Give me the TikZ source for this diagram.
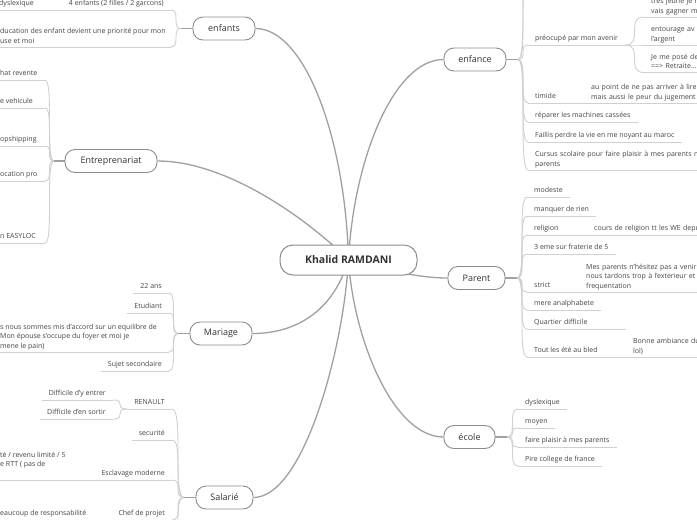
\documentclass[tikz,border=0pt]{standalone}
\usepackage{fontspec}
\setmainfont{Open Sans}
\usetikzlibrary{backgrounds,calc}
\definecolor{txt}{HTML}{454545}
\definecolor{btxt}{HTML}{333333}
\definecolor{bord}{HTML}{8C8C8C}
\definecolor{mainline}{HTML}{A0A0A0}
\definecolor{leafline}{HTML}{D0D0D0}
\begin{document}
\begin{tikzpicture}[x=1pt,y=-1pt,
 mainnode/.style={draw=bord, line width=1pt, rounded corners=13pt, fill=white, minimum width=137pt, minimum height=30pt, font=\fontsize{10.5}{12}\selectfont\bfseries, text=btxt, inner sep=2pt},
 branch/.style={draw=bord, line width=0.9pt, rounded corners=10pt, fill=white, minimum height=23pt, font=\fontsize{9}{11}\selectfont, text=btxt, inner xsep=4pt, inner ysep=2pt},
 leafbase/.style={font=\fontsize{7}{9.5}\selectfont, text=txt, inner xsep=7pt, inner ysep=2pt, align=left},
 uline/.style={draw=leafline, line width=0.9pt},
 rleaf/.style={leafbase, text depth=1.9pt, anchor=south west, append after command={(\tikzlastnode.south west) edge[uline] (\tikzlastnode.south east)}},
 rmleaf/.style={leafbase, anchor=south west, append after command={(\tikzlastnode.south west) edge[uline] (\tikzlastnode.south east)}},
 lleaf/.style={leafbase, text depth=1.9pt, anchor=south east},
 lcut/.style={leafbase, text depth=1.9pt, anchor=south west},
 lmcut/.style={leafbase, anchor=south west},
 brk/.style={uline, to path={.. controls (\tikztostart -| \tikztotarget) and (\tikztotarget -| \tikztostart) .. (\tikztotarget)}},
 mline/.style={draw=mainline, line width=1.3pt},
 stub/.style={draw=mainline, line width=1.1pt},
]
\useasboundingbox (0,0) rectangle (697,520);
\clip (0,0) rectangle (697,520);

% central and branch nodes
\node[mainnode] (main) at (348.5,260) {Khalid RAMDANI};
\node[branch, minimum width=62pt] (enfants) at (224,28.5) {enfants};
\node[branch, minimum width=92pt] (entre) at (111,161) {Entreprenariat};
\node[branch, minimum width=62pt] (mariage) at (221,333.5) {Mariage};
\node[branch, minimum width=57pt] (salarie) at (224.5,497.5) {Salarié};
\node[branch, minimum width=62pt] (enfance) at (475,59.5) {enfance};
\node[branch, minimum width=57pt] (parent) at (476.5,278) {Parent};
\node[branch, minimum width=51pt] (ecole) at (469.5,437) {école};

% junctions
\coordinate (jEf) at (181,28.5);
\coordinate (jEn) at (54,161);
\coordinate (jM) at (178,333.5);
\coordinate (jS) at (184,497.5);
\coordinate (jE) at (518,59.5);
\coordinate (jP) at (517,278);
\coordinate (jC) at (507,437);

% enfance
\coordinate (eoff1) at (528,-20);
\coordinate (eoff2) at (528,-55);
\node[rleaf] (pre) at (528,45) {préocupé par mon avenir};
\node[rmleaf, text width=200pt] (pre1) at (644,17) {très jeune je r\\vais gagner m\vphantom{p}};
\node[rmleaf, text width=200pt] (pre2) at (644,45) {entourage av\\l'argent\vphantom{p}};
\node[rmleaf, text width=200pt] (pre3) at (644,72.5) {Je me posé de\\==> Retraite...\vphantom{p}};
\node[rleaf] (tim) at (528,103) {timide};
\node[rmleaf, text width=200pt] (timc) at (584,103) {au point de ne pas arriver à lire e\\mais aussi le peur du jugement\vphantom{p}};
\node[rleaf] (rep) at (528,122) {réparer les machines cassées};
\node[rleaf] (fail) at (528,142) {Faillis perdre la vie en me noyant au maroc};
\node[rmleaf, text width=200pt] (cur) at (528,170) {Cursus scolaire pour faire plaisir à mes parents m\\parents\vphantom{p}};

% Parent
\node[rleaf] (mod) at (527,197) {modeste};
\node[rleaf] (manq) at (527,216) {manquer de rien};
\node[rleaf] (rel) at (527,235) {religion};
\node[rleaf, text width=200pt] (relc) at (587,235) {cours de religion tt les WE depu};
\node[rleaf] (frat) at (527,254) {3 eme sur fraterie de 5};
\node[rleaf] (str) at (527,292) {strict};
\node[rmleaf, text width=200pt] (strc) at (579,292) {Mes parents n'hésitez pas a venir n\\nous tardons trop à l'exterieur et c\\frequentation\vphantom{p}};
\node[rleaf] (mere) at (527,310) {mere analphabete};
\node[rleaf, text width=85pt] (quar) at (527,329) {Quartier difficile};
\node[rleaf] (bled) at (527,357) {Tout les été au bled};
\node[rmleaf, text width=200pt] (bledc) at (626,357) {Bonne ambiance du\\lol)\vphantom{p}};

% ecole
\node[rleaf] (dys2) at (518,409) {dyslexique};
\node[rleaf] (moy) at (518,428) {moyen};
\node[rleaf] (fp) at (518,447) {faire plaisir à mes parents};
\node[rleaf] (pire) at (518,466) {Pire college de france};

% enfants
\coordinate (kE4) at (171,10);
\coordinate (kEd) at (171,47);
\node[lleaf] (e4) at (kE4) {4 enfants (2 filles / 2 garcons)};
\node[lcut] (e4c) at (-8,10) {dyslexique};
\node[lmcut] (educ) at (-7,47) {ducation des enfant devient une priorité pour mon\\use et moi\vphantom{p}};

% Entreprenariat
\coordinate (kN1) at (45,80);
\coordinate (kN2) at (45,108);
\coordinate (kN3) at (45,146);
\coordinate (kN4) at (45,181);
\coordinate (kN5) at (45,243);
\node[lcut] (n1) at (-7,80) {hat revente};
\node[lcut] (n2) at (-7,108) {e vehicule};
\node[lcut] (n3) at (-7,146) {opshipping};
\node[lcut] (n4) at (-7,181) {ocation pro};
\node[lcut] (n5) at (-7,243) {n EASYLOC};

% Mariage
\coordinate (kM1) at (169,293);
\coordinate (kM2) at (169,313);
\coordinate (kM3) at (169,352);
\coordinate (kM4) at (169,371);
\node[lleaf] (m1) at (kM1) {22 ans};
\node[lleaf] (m2) at (kM2) {Etudiant};
\node[lmcut] (m3) at (-7,352) {s nous sommes mis d'accord sur un equilibre de\\Mon épouse s'occupe du foyer et moi je\\mene le pain)\vphantom{p}};
\node[lleaf] (m4) at (kM4) {Sujet secondaire};

% Salarie
\coordinate (kS1) at (172,409);
\coordinate (kS2) at (172,440);
\coordinate (kS3) at (172,480);
\coordinate (kS4) at (172,520);
\coordinate (kS5) at (172,548);
\coordinate (kR1) at (113,400);
\coordinate (kR2) at (113,419);
\node[lleaf] (ren) at (kS1) {RENAULT};
\node[lleaf] (d1) at (kR1) {Difficile d'y entrer};
\node[lleaf] (d2) at (kR2) {Difficile d'en sortir};
\node[lleaf] (sec) at (kS2) {securité};
\node[lleaf] (esc) at (kS3) {Esclavage moderne};
\node[lmcut] (escc) at (-7,480) {té / revenu limité / 5\\e RTT ( pas de\\\vphantom{p}};
\node[lleaf] (chef) at (kS4) {Chef de projet};
\node[lcut] (chefc) at (-7,520) {eaucoup de responsabilité};

\begin{scope}[on background layer]
\fill[white] (0,0) rectangle (697,520);
% main connectors
\draw[mline] (main.center) .. controls +(-3,-120) and +(50,0) .. (enfants.east);
\draw[mline] (main.center) .. controls +(-40,-40) and +(70,0) .. (entre.east);
\draw[mline] (main.center) .. controls +(-15,50) and +(45,0) .. (mariage.east);
\draw[mline] (main.center) .. controls +(-5,90) and +(50,0) .. (salarie.east);
\draw[mline] (main.center) .. controls +(5,-100) and +(-50,0) .. (enfance.west);
\draw[mline] (main.center) .. controls +(40,10) and +(-30,0) .. (parent.west);
\draw[mline] (main.center) .. controls +(5,80) and +(-50,0) .. (ecole.west);
% stubs
\draw[stub] (enfants.west) -- (jEf);
\draw[stub] (entre.west) -- (jEn);
\draw[stub] (mariage.west) -- (jM);
\draw[stub] (salarie.west) -- (jS);
\draw[stub] (enfance.east) -- (jE);
\draw[stub] (parent.east) -- (jP);
\draw[stub] (ecole.east) -- (jC);
% right brackets
\draw[brk] (jE) to (eoff1);
\draw[brk] (jE) to (eoff2);
\draw[brk] (jE) to (pre.south west);
\draw[brk] (jE) to (tim.south west);
\draw[brk] (jE) to (rep.south west);
\draw[brk] (jE) to (fail.south west);
\draw[brk] (jE) to (cur.south west);
\draw[brk] (pre.south east) to (pre1.south west);
\draw[brk] (pre.south east) to (pre2.south west);
\draw[brk] (pre.south east) to (pre3.south west);
\draw[uline] (tim.south east) -- (timc.south west);
\draw[brk] (jP) to (mod.south west);
\draw[brk] (jP) to (manq.south west);
\draw[brk] (jP) to (rel.south west);
\draw[brk] (jP) to (frat.south west);
\draw[brk] (jP) to (str.south west);
\draw[brk] (jP) to (mere.south west);
\draw[brk] (jP) to (quar.south west);
\draw[brk] (jP) to (bled.south west);
\draw[uline] (rel.south east) -- (relc.south west);
\draw[uline] (str.south east) -- (strc.south west);
\draw[uline] (bled.south east) -- (bledc.south west);
\draw[brk] (jC) to (dys2.south west);
\draw[brk] (jC) to (moy.south west);
\draw[brk] (jC) to (fp.south west);
\draw[brk] (jC) to (pire.south west);
% left brackets
\draw[brk] (jEf) to (kE4);
\draw[brk] (jEf) to (kEd);
\draw[uline] (e4c.south west) -- (kE4);
\draw[uline] (educ.south west) -- (kEd);
\draw[brk] (jEn) to (kN1);
\draw[brk] (jEn) to (kN2);
\draw[brk] (jEn) to (kN3);
\draw[brk] (jEn) to (kN4);
\draw[brk] (jEn) to (kN5);
\draw[uline] (n1.south west) -- (kN1);
\draw[uline] (n2.south west) -- (kN2);
\draw[uline] (n3.south west) -- (kN3);
\draw[uline] (n4.south west) -- (kN4);
\draw[uline] (n5.south west) -- (kN5);
\draw[brk] (jM) to (kM1);
\draw[brk] (jM) to (kM2);
\draw[brk] (jM) to (kM3);
\draw[brk] (jM) to (kM4);
\draw[uline] (m1.south west) -- (kM1);
\draw[uline] (m2.south west) -- (kM2);
\draw[uline] (m3.south west) -- (kM3);
\draw[uline] (m4.south west) -- (kM4);
\draw[brk] (jS) to (kS1);
\draw[brk] (jS) to (kS2);
\draw[brk] (jS) to (kS3);
\draw[brk] (jS) to (kS4);
\draw[brk] (jS) to (kS5);
\draw[uline] (ren.south west) -- (kS1);
\draw[brk] (ren.south west) to (kR1);
\draw[brk] (ren.south west) to (kR2);
\draw[uline] (d1.south west) -- (kR1);
\draw[uline] (d2.south west) -- (kR2);
\draw[uline] (sec.south west) -- (kS2);
\draw[uline] (escc.south west) -- (kS3);
\draw[uline] (chefc.south west) -- (kS4);
\end{scope}
\end{tikzpicture}
\end{document}
